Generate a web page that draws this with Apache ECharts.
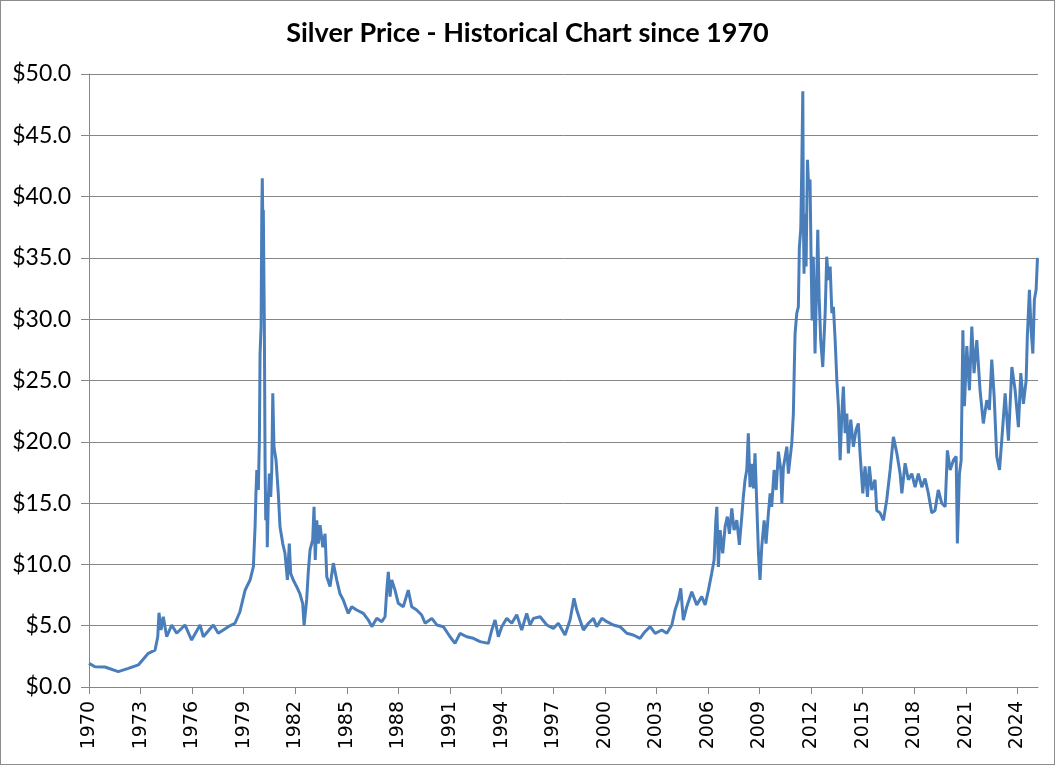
<!DOCTYPE html>
<html>
<head>
<meta charset="utf-8">
<title>Silver Price - Historical Chart since 1970</title>
<script src="https://cdn.jsdelivr.net/npm/echarts@6/dist/echarts.min.js"></script>
<style>
  html, body { margin: 0; padding: 0; background: #fff; }
  #chart { width: 1055px; height: 765px; box-sizing: border-box; border: 1px solid #8c8c8c; }
</style>
</head>
<body>
<div id="chart"></div>
<script>
// silver price (USD/oz)
const years = [
  1970.00, 1970.35, 1970.93, 1971.70, 1972.29, 1972.87, 1973.45, 1973.84, 1974.00, 1974.07,
  1974.19, 1974.32, 1974.52, 1974.81, 1975.10, 1975.58, 1975.97, 1976.46, 1976.65, 1977.23,
  1977.52, 1978.10, 1978.49, 1978.78, 1979.08, 1979.37, 1979.56, 1979.66, 1979.71, 1979.76,
  1979.85, 1979.91, 1979.95, 1980.01, 1980.05, 1980.08, 1980.12, 1980.14, 1980.20, 1980.24,
  1980.28, 1980.34, 1980.37, 1980.43, 1980.49, 1980.57, 1980.63, 1980.69, 1980.76, 1980.88,
  1981.01, 1981.11, 1981.27, 1981.40, 1981.54, 1981.65, 1981.73, 1981.88, 1982.08, 1982.27,
  1982.43, 1982.51, 1982.66, 1982.76, 1982.86, 1983.01, 1983.09, 1983.16, 1983.25, 1983.34,
  1983.44, 1983.60, 1983.73, 1983.83, 1984.02, 1984.21, 1984.41, 1984.60, 1984.79, 1985.08,
  1985.28, 1985.57, 1985.96, 1986.25, 1986.45, 1986.74, 1987.03, 1987.22, 1987.32, 1987.41,
  1987.51, 1987.61, 1987.80, 1987.99, 1988.28, 1988.57, 1988.77, 1989.06, 1989.35, 1989.55,
  1989.94, 1990.23, 1990.61, 1991.00, 1991.29, 1991.58, 1991.97, 1992.36, 1992.75, 1993.23,
  1993.43, 1993.62, 1993.81, 1994.01, 1994.30, 1994.59, 1994.88, 1995.17, 1995.46, 1995.65,
  1995.85, 1996.24, 1996.63, 1997.01, 1997.30, 1997.69, 1997.98, 1998.21, 1998.37, 1998.56,
  1998.76, 1999.05, 1999.34, 1999.53, 1999.83, 2000.12, 2000.50, 2000.89, 2001.28, 2001.66,
  2002.05, 2002.34, 2002.64, 2002.93, 2003.32, 2003.61, 2003.90, 2004.09, 2004.28, 2004.42,
  2004.57, 2004.77, 2005.06, 2005.35, 2005.64, 2005.84, 2006.03, 2006.22, 2006.36, 2006.46,
  2006.52, 2006.61, 2006.71, 2006.86, 2007.00, 2007.13, 2007.25, 2007.39, 2007.52, 2007.68,
  2007.83, 2007.97, 2008.06, 2008.16, 2008.26, 2008.35, 2008.45, 2008.55, 2008.65, 2008.74,
  2008.84, 2008.94, 2009.03, 2009.13, 2009.27, 2009.38, 2009.52, 2009.62, 2009.71, 2009.85,
  2009.97, 2010.10, 2010.24, 2010.30, 2010.39, 2010.59, 2010.68, 2010.88, 2010.97, 2011.03,
  2011.07, 2011.17, 2011.26, 2011.32, 2011.40, 2011.46, 2011.52, 2011.55, 2011.59, 2011.65,
  2011.71, 2011.79, 2011.87, 2011.94, 2012.00, 2012.06, 2012.13, 2012.23, 2012.33, 2012.39,
  2012.47, 2012.56, 2012.68, 2012.82, 2012.91, 2013.01, 2013.11, 2013.21, 2013.30, 2013.40,
  2013.50, 2013.59, 2013.69, 2013.79, 2013.88, 2013.98, 2014.08, 2014.17, 2014.31, 2014.46,
  2014.62, 2014.75, 2014.85, 2015.01, 2015.14, 2015.28, 2015.39, 2015.53, 2015.72, 2015.82,
  2016.01, 2016.21, 2016.40, 2016.60, 2016.79, 2016.99, 2017.18, 2017.28, 2017.47, 2017.66,
  2017.86, 2018.05, 2018.24, 2018.44, 2018.63, 2018.82, 2019.02, 2019.21, 2019.40, 2019.60,
  2019.80, 2019.93, 2020.09, 2020.28, 2020.44, 2020.51, 2020.63, 2020.73, 2020.83, 2020.92,
  2021.06, 2021.21, 2021.35, 2021.48, 2021.64, 2021.83, 2022.02, 2022.22, 2022.37, 2022.51,
  2022.65, 2022.80, 2022.96, 2023.09, 2023.29, 2023.48, 2023.68, 2023.87, 2024.06, 2024.20,
  2024.35, 2024.51, 2024.58, 2024.70, 2024.80, 2024.90, 2024.99, 2025.09, 2025.17
];
const prices = [
  1.93, 1.65, 1.63, 1.25, 1.52, 1.80, 2.75, 3.00, 4.10, 6.06,
  4.65, 5.73, 4.10, 5.06, 4.38, 5.06, 3.83, 5.06, 4.10, 5.06,
  4.38, 4.92, 5.20, 6.14, 7.90, 8.73, 9.80, 13.07, 15.80, 17.70,
  16.07, 20.10, 27.20, 29.40, 38.60, 41.50, 36.70, 38.90, 29.40, 18.50,
  13.60, 15.80, 11.40, 15.25, 17.40, 15.50, 17.70, 23.95, 19.60, 18.50,
  15.80, 13.07, 11.70, 10.90, 8.73, 11.70, 9.27, 8.73, 8.18, 7.60,
  6.80, 5.00, 7.10, 9.50, 11.20, 12.00, 14.70, 10.36, 13.60, 11.70,
  13.20, 11.40, 12.50, 9.00, 8.20, 10.10, 8.73, 7.60, 7.10, 6.00,
  6.55, 6.28, 6.00, 5.46, 4.92, 5.60, 5.33, 5.73, 7.90, 9.40,
  7.37, 8.73, 7.90, 6.83, 6.55, 7.90, 6.55, 6.28, 5.87, 5.20,
  5.60, 5.06, 4.92, 4.10, 3.56, 4.38, 4.10, 3.97, 3.70, 3.56,
  4.65, 5.46, 4.10, 4.92, 5.60, 5.20, 5.90, 4.65, 6.00, 5.06,
  5.60, 5.73, 5.06, 4.78, 5.20, 4.24, 5.46, 7.23, 6.28, 5.46,
  4.65, 5.20, 5.60, 4.92, 5.60, 5.33, 5.06, 4.92, 4.38, 4.24,
  3.97, 4.51, 4.92, 4.38, 4.65, 4.38, 5.06, 6.28, 7.10, 8.05,
  5.46, 6.55, 7.77, 6.70, 7.37, 6.70, 7.90, 9.27, 10.36, 13.60,
  14.70, 9.80, 12.80, 10.90, 13.07, 13.90, 12.50, 14.57, 12.80, 13.60,
  11.60, 13.90, 15.50, 16.90, 17.70, 20.70, 16.30, 18.20, 16.20, 19.06,
  15.00, 10.90, 8.73, 11.40, 13.60, 11.70, 14.20, 15.80, 14.70, 17.70,
  16.07, 19.20, 17.70, 15.00, 17.90, 19.60, 17.40, 19.90, 22.30, 26.40,
  28.85, 30.50, 31.00, 35.90, 37.30, 42.40, 48.60, 38.60, 33.70, 38.60,
  34.30, 43.00, 40.50, 41.40, 35.10, 29.90, 35.10, 27.20, 33.20, 37.30,
  31.80, 28.30, 26.10, 30.50, 35.10, 33.20, 34.30, 30.50, 31.00, 28.30,
  25.00, 22.90, 18.50, 22.30, 24.50, 20.70, 22.30, 19.06, 21.80, 19.60,
  21.00, 21.50, 19.06, 15.80, 18.00, 15.50, 18.00, 16.07, 16.90, 14.40,
  14.20, 13.60, 15.25, 17.70, 20.40, 19.06, 17.40, 15.80, 18.25, 16.90,
  17.40, 16.30, 17.40, 16.30, 17.00, 15.80, 14.20, 14.40, 16.07, 15.00,
  14.70, 19.30, 17.70, 18.50, 18.80, 11.70, 17.40, 18.50, 29.10, 22.90,
  27.80, 24.20, 29.40, 25.60, 28.30, 24.20, 21.50, 23.40, 22.60, 26.70,
  23.70, 18.80, 17.70, 20.10, 23.95, 20.10, 26.10, 24.20, 21.20, 25.60,
  23.10, 25.00, 28.60, 32.40, 29.10, 27.20, 31.60, 32.40, 35.00
];
const yearTicks = [1970, 1973, 1976, 1979, 1982, 1985, 1988, 1991, 1994, 1997,
  2000, 2003, 2006, 2009, 2012, 2015, 2018, 2021, 2024];

const seriesData = years.map((y, i) => [y, prices[i]]);

const chart = echarts.init(document.getElementById('chart'));
const axisGray = '#868686';

chart.setOption({
  animation: false,
  title: {
    text: 'Silver Price - Historical Chart since 1970',
    left: 'center',
    top: 14,
    textStyle: { fontFamily: 'Lato', fontWeight: 'bold', fontSize: 27, color: '#000' }
  },
  grid: { left: 88, right: 16, top: 73, bottom: 77 },
  xAxis: {
    type: 'value',
    min: 1970,
    max: 2025.2,
    splitLine: { show: false },
    axisLine: { lineStyle: { color: axisGray } },
    axisTick: { customValues: yearTicks, length: 7, lineStyle: { color: axisGray } },
    axisLabel: {
      customValues: yearTicks,
      rotate: 90,
      margin: 14,
      fontFamily: 'DejaVu Sans',
      fontSize: 19,
      color: '#000',
      formatter: v => String(v)
    }
  },
  yAxis: {
    type: 'value',
    min: 0,
    max: 50,
    interval: 5,
    axisLine: { show: true, lineStyle: { color: axisGray } },
    axisTick: { show: true, length: 8, lineStyle: { color: axisGray } },
    splitLine: { lineStyle: { color: axisGray, width: 1 } },
    axisLabel: {
      margin: 18,
      fontFamily: 'Lato',
      fontSize: 23,
      color: '#000',
      formatter: v => '$' + v.toFixed(1)
    }
  },
  series: [{
    type: 'line',
    data: seriesData,
    showSymbol: false,
    lineStyle: { color: '#4a7ebb', width: 3 }
  }]
});
</script>
</body>
</html>
